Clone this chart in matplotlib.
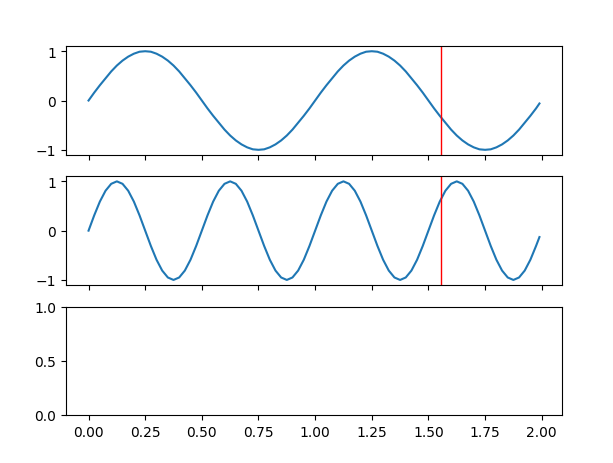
import matplotlib
matplotlib.use("Agg")
import matplotlib.pyplot as plt

# sample times
t = [0.0, 0.025, 0.05, 0.075, 0.1, 0.125, 0.15, 0.175, 0.2, 0.225,
     0.25, 0.275, 0.3, 0.325, 0.35, 0.375, 0.4, 0.425, 0.45, 0.475,
     0.5, 0.525, 0.55, 0.575, 0.6, 0.625, 0.65, 0.675, 0.7, 0.725,
     0.75, 0.775, 0.8, 0.825, 0.85, 0.875, 0.9, 0.925, 0.95, 0.975,
     1.0, 1.025, 1.05, 1.075, 1.1, 1.125, 1.15, 1.175, 1.2, 1.225,
     1.25, 1.275, 1.3, 1.325, 1.35, 1.375, 1.4, 1.425, 1.45, 1.475,
     1.5, 1.525, 1.55, 1.575, 1.6, 1.625, 1.65, 1.675, 1.7, 1.725,
     1.75, 1.775, 1.8, 1.825, 1.85, 1.875, 1.9, 1.925, 1.95, 1.975,
     1.99]

# top panel, slow wave
s1 = [0, .16, .31, .45, .59, .71, .81, .89, .95, .99,
      1, .99, .95, .89, .81, .71, .59, .45, .31, .16,
      0, -.16, -.31, -.45, -.59, -.71, -.81, -.89, -.95, -.99,
      -1, -.99, -.95, -.89, -.81, -.71, -.59, -.45, -.31, -.16,
      0, .16, .31, .45, .59, .71, .81, .89, .95, .99,
      1, .99, .95, .89, .81, .71, .59, .45, .31, .16,
      0, -.16, -.31, -.45, -.59, -.71, -.81, -.89, -.95, -.99,
      -1, -.99, -.95, -.89, -.81, -.71, -.59, -.45, -.31, -.16,
      -.06]

# middle panel, fast wave
s2 = [0, .31, .59, .81, .95, 1, .95, .81, .59, .31,
      0, -.31, -.59, -.81, -.95, -1, -.95, -.81, -.59, -.31,
      0, .31, .59, .81, .95, 1, .95, .81, .59, .31,
      0, -.31, -.59, -.81, -.95, -1, -.95, -.81, -.59, -.31,
      0, .31, .59, .81, .95, 1, .95, .81, .59, .31,
      0, -.31, -.59, -.81, -.95, -1, -.95, -.81, -.59, -.31,
      0, .31, .59, .81, .95, 1, .95, .81, .59, .31,
      0, -.31, -.59, -.81, -.95, -1, -.95, -.81, -.59, -.31,
      -.13]

cursor_x = 1.557

fig, (ax1, ax2, ax3) = plt.subplots(3, sharex=True, figsize=(6.13, 4.64), dpi=100)
fig.subplots_adjust(left=66/613, right=562/613, top=1-47.3/464, bottom=1-416/464)

ax1.plot(t, s1)
ax2.plot(t, s2)

for ax in (ax1, ax2):
    ax.axvline(cursor_x, color="r", lw=1)

fig.savefig("out.png")
